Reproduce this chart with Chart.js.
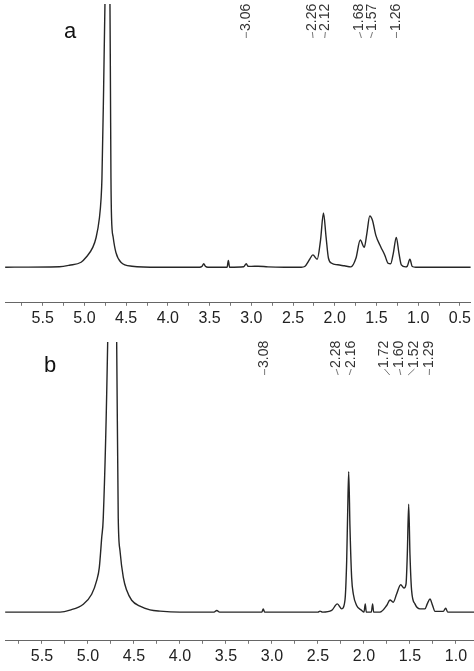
<!DOCTYPE html>
<html>
<head>
<meta charset="utf-8">
<script src="https://cdn.jsdelivr.net/npm/chart.js@4/dist/chart.umd.min.js"></script>
<style>
  html, body { margin: 0; padding: 0; background: #fff; overflow: hidden; }
  canvas { position: absolute; left: 0; }
  #spec-a { top: 0; }
  #spec-b { top: 338px; }
</style>
</head>
<body>
<canvas id="spec-a" width="474" height="331"></canvas>
<canvas id="spec-b" width="474" height="331"></canvas>
<script>
// spectrum a, chemical shift (ppm) and intensity
const ppm_a = [5.95, 5.30, 5.18, 5.04, 4.98, 4.90, 4.86, 4.82, 4.80, 4.79, 4.77, 4.754, 4.726, 4.694, 4.688, 4.682, 4.675, 4.655, 4.623, 4.563, 4.43, 4.11,
  3.62, 3.59, 3.57, 3.55, 3.52, 3.29, 3.275, 3.26, 3.09, 3.06, 3.04, 3.00, 2.92, 2.80, 2.60, 2.40,
  2.36, 2.30, 2.262, 2.21, 2.17, 2.135, 2.104, 2.075, 2.036, 1.964, 1.885, 1.806,
  1.746, 1.694, 1.646, 1.615, 1.58, 1.548, 1.508, 1.449, 1.401, 1.361, 1.33,
  1.298, 1.262, 1.23, 1.202, 1.151, 1.131, 1.099, 1.071, 1.03, 0.37]
const int_a = [0, 0.5, 2, 5, 10, 20, 30, 50, 70, 90, 180, 266, 340, 266, 180, 90, 50, 30, 15, 5, 1, 0,
  0, 1, 3.4, 1, 0, 0, 6.7, 0, 0.5, 3.5, 1, 0.8, 1, 0.3, 0, 0,
  0.7, 8, 12.4, 8, 27.4, 54.7, 30.7, 9, 4, 2.4, 1.4, 0.3,
  9, 27.4, 20, 34, 51.7, 47.4, 32.4, 20.7, 12.4, 4, 3.4,
  14, 30, 14, 2.4, 0.3, 1, 8, 0.7, 0, 0]

// spectrum b
const ppm_b = [5.90, 5.304, 5.196, 5.051, 4.960, 4.905, 4.877, 4.851, 4.834, 4.786, 4.739, 4.688, 4.671, 4.652, 4.616, 4.579, 4.525, 4.435, 4.326, 4.217, 4.0,
  3.63, 3.60, 3.57, 3.11, 3.095, 3.08, 2.50, 2.478, 2.45,
  2.351, 2.290, 2.242, 2.207, 2.188, 2.177, 2.166, 2.152, 2.134, 2.116, 2.080, 2.025,
  2.00, 1.986, 1.975, 1.92, 1.906, 1.895, 1.826,
  1.753, 1.717, 1.682, 1.645, 1.601, 1.565, 1.543, 1.529, 1.514, 1.500, 1.482, 1.446, 1.391,
  1.337, 1.312, 1.283, 1.254, 1.228, 1.138, 1.112, 1.090, 0.80]
const int_b = [0, 0, 2, 8, 18, 32, 45, 75, 95, 272, 600, 272, 95, 62, 35, 22, 12, 6, 2.3, 1, 0,
  0, 1.7, 0, 0, 3.3, 0, 0, 1, 0,
  1.7, 8.3, 3.3, 11.7, 51.7, 101.7, 142, 85, 35, 18.3, 6.7, 1.7,
  0, 8.3, 0, 0, 8.3, 0, 0,
  6.7, 12.3, 10, 18.3, 27.7, 24.3, 28.3, 58.3, 109, 58.3, 21.7, 8.3, 3.3,
  3.3, 8.3, 13.3, 6.7, 0.7, 0.7, 4, 0, 0]

// peak labels
const peaks_a = ['3.06', '2.26', '2.12', '1.68', '1.57', '1.26']
const peaks_b = ['3.08', '2.28', '2.16', '1.72', '1.60', '1.52', '1.29']

// axis tick labels
const ticks_a = ['5.5', '5.0', '4.5', '4.0', '3.5', '3.0', '2.5', '2.0', '1.5', '1.0', '0.5']
const ticks_b = ['5.5', '5.0', '4.5', '4.0', '3.5', '3.0', '2.5', '2.0', '1.5', '1.0']

Chart.defaults.font.family = '"Liberation Sans", Arial, sans-serif'
Chart.defaults.color = '#222'

const peakLabels = {
  id: 'peakLabels',
  afterDraw(chart, args, opts) {
    const ctx = chart.ctx
    const x = chart.scales.x
    const px = opts.values.map(v => x.getPixelForValue(parseFloat(v)))
    const pos = px.slice()
    for (let k = 0; k < 60; k++) {
      for (let i = 1; i < pos.length; i++) {
        const d = pos[i] - pos[i - 1]
        if (d < opts.gap) {
          const s = (opts.gap - d) / 2
          pos[i] += s
          pos[i - 1] -= s
        }
      }
    }
    ctx.save()
    ctx.fillStyle = '#333'
    ctx.strokeStyle = '#555'
    ctx.lineWidth = 0.8
    ctx.font = '14px "Liberation Sans", Arial, sans-serif'
    pos.forEach((p, i) => {
      ctx.save()
      ctx.translate(p, opts.bottom)
      ctx.rotate(-Math.PI / 2)
      ctx.textAlign = 'left'
      ctx.textBaseline = 'middle'
      ctx.fillText(opts.values[i], 0, 0)
      ctx.restore()
      ctx.beginPath()
      ctx.moveTo(p, opts.bottom + 1)
      ctx.lineTo(px[i], opts.bottom + 7)
      ctx.stroke()
    })
    ctx.font = '22px "Liberation Sans", Arial, sans-serif'
    ctx.fillStyle = '#111'
    ctx.textAlign = 'center'
    ctx.textBaseline = 'alphabetic'
    ctx.fillText(opts.letter, opts.letterX, opts.letterY)
    ctx.restore()
  }
}

function make_spectrum(canvas, ppm, intensity, tickLabels, peaks, cfg) {
  const majors = tickLabels.map(t => parseFloat(t))
  const all_ticks = []
  majors.forEach(v => {
    if (v + 0.25 < cfg.max) all_ticks.push(v + 0.25)
    all_ticks.push(v)
  })
  return new Chart(canvas, {
    type: 'line',
    data: {
      datasets: [{
        data: ppm.map((p, i) => ({ x: p, y: intensity[i] })),
        borderColor: '#262626',
        borderWidth: 1.4,
        pointRadius: 0,
        cubicInterpolationMode: 'monotone',
        fill: false,
      }]
    },
    options: {
      responsive: false,
      animation: false,
      layout: { padding: { left: 5, right: 0, top: cfg.top, bottom: 0 } },
      plugins: {
        legend: { display: false },
        tooltip: { enabled: false },
        peakLabels: { values: peaks, gap: cfg.gap, bottom: cfg.labelBottom, letter: cfg.letter, letterX: cfg.letterX, letterY: cfg.letterY },
      },
      scales: {
        x: {
          type: 'linear',
          reverse: true,
          min: cfg.min,
          max: cfg.max,
          afterBuildTicks: scale => { scale.ticks = all_ticks.map(v => ({ value: v })) },
          ticks: {
            autoSkip: false,
            maxRotation: 0,
            padding: 3,
            font: { size: 16 },
            color: '#222',
            callback: v => {
              const i = majors.findIndex(m => Math.abs(m - v) < 1e-6)
              return i >= 0 ? tickLabels[i] : ''
            }
          },
          grid: { drawOnChartArea: false, tickLength: 3, color: '#777' },
          border: { display: true, color: '#666', width: 1 },
        },
        y: {
          display: false,
          min: cfg.ymin,
          max: cfg.ymax,
        }
      }
    },
    plugins: [peakLabels]
  })
}

make_spectrum(document.getElementById('spec-a'), ppm_a, int_a, ticks_a, peaks_a,
  { min: 0.369, max: 5.952, ymin: -36, ymax: 266, top: 4, gap: 13, labelBottom: 31, letter: 'a', letterX: 70, letterY: 38 })
make_spectrum(document.getElementById('spec-b'), ppm_b, int_b, ticks_b, peaks_b,
  { min: 0.804, max: 5.902, ymin: -29, ymax: 273, top: 4, gap: 15, labelBottom: 30, letter: 'b', letterX: 50, letterY: 34 })
</script>
</body>
</html>
